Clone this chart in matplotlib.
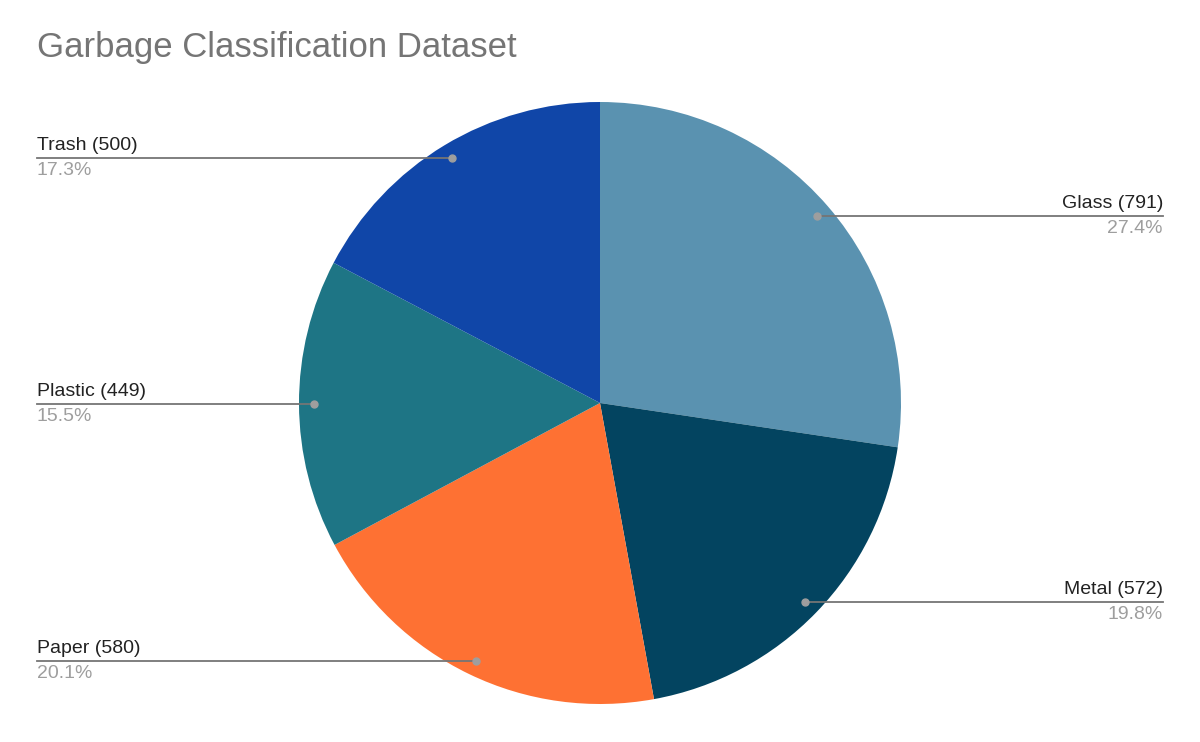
import numpy as np
import matplotlib.pyplot as plt

plt.rcParams['font.family'] = ['Liberation Sans', 'DejaVu Sans']

# data
categories = ['Glass', 'Metal', 'Paper', 'Plastic', 'Trash']
counts = [791, 572, 580, 449, 500]
colors = ['#5a92b0', '#034460', '#fe7133', '#1e7585', '#1046a8']

W, H = 1200, 742
fig = plt.figure(figsize=(12, 7.42), dpi=100)
ax = fig.add_axes([0, 0, 1, 1])
ax.set_xlim(0, W)
ax.set_ylim(0, H)
ax.set_aspect('equal')
ax.axis('off')

cx, cy, R = 600, H - 403, 301
ax.pie(counts, colors=colors, startangle=90, counterclock=False,
       center=(cx, cy), radius=R, wedgeprops=dict(linewidth=0))
ax.set_xlim(0, W)
ax.set_ylim(0, H)

total = sum(counts)
cum = 0
for name, n in zip(categories, counts):
    frac = n / total
    mid = (cum + frac / 2) * 2 * np.pi
    cum += frac
    dx, dy = 0.95 * R * np.sin(mid), 0.95 * R * np.cos(mid)
    px, py = cx + dx, cy + dy
    right = dx > 0
    ex = 1163 if right else 37
    ax.plot([px, ex], [py, py], color='#757575', lw=1.3, zorder=3)
    ax.plot(px, py, 'o', color='#9e9e9e', ms=5, zorder=4)
    ha = 'right' if right else 'left'
    ax.text(ex, py + 4, f'{name} ({n})', ha=ha, va='bottom', fontsize=14, color='#222222')
    ax.text(ex, py - 4, f'{frac * 100:.1f}%', ha=ha, va='top', fontsize=14, color='#9e9e9e')

fig.text(37 / W, 1 - 57 / H, 'Garbage Classification Dataset', fontsize=25,
         color='#757575', va='baseline')

fig.savefig('out.png', dpi=100)
